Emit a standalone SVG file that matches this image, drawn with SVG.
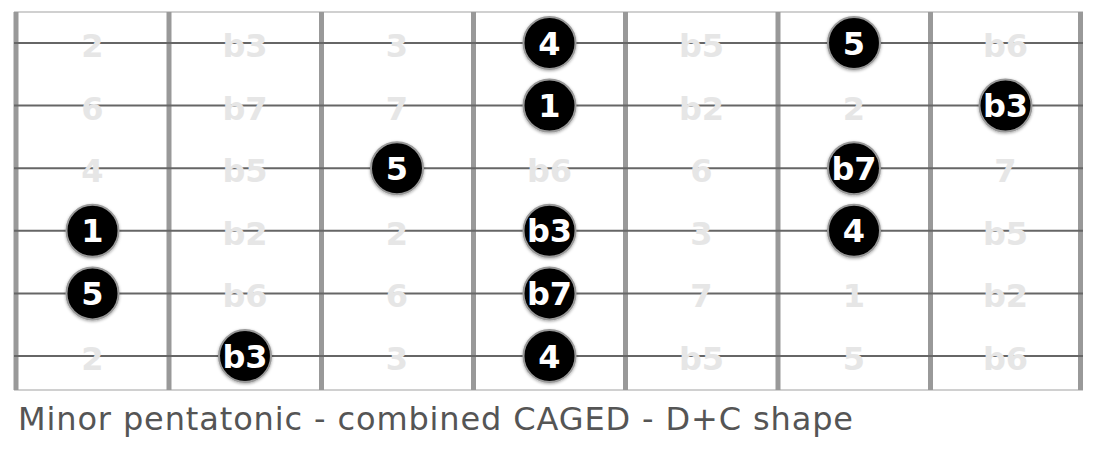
<svg xmlns="http://www.w3.org/2000/svg" width="1100" height="460" viewBox="0 0 1100 460">
<defs>
<style>
.frame{stroke:#d0d0d0;stroke-width:2;fill:none}
.fret{stroke:#999;stroke-width:5}
.str{stroke:#666;stroke-width:2}
.ghost{font-family:"DejaVu Sans",Verdana,sans-serif;font-weight:bold;font-size:32px;fill:#e6e6e6;text-anchor:middle}
.dot circle{fill:#000;stroke:#999;stroke-width:2;filter:url(#sh)}
.dot text{font-family:"DejaVu Sans",Verdana,sans-serif;font-weight:bold;font-size:32px;fill:#fff;text-anchor:middle}
.cap{font-family:"DejaVu Sans",Verdana,sans-serif;font-size:32px;fill:#555}
</style>
<filter id="sh" x="-30%" y="-30%" width="160%" height="160%">
<feDropShadow dx="0" dy="1" stdDeviation="1.5" flood-color="#000" flood-opacity="0.35"/>
</filter>
</defs>
<rect width="1100" height="460" fill="#fff"/>
<g id="board">
<line class="frame" x1="14" y1="12" x2="1083" y2="12"/>
<line class="frame" x1="14" y1="390" x2="1083" y2="390"/>
<g id="frets">
<line class="fret" x1="16" y1="12" x2="16" y2="390"/>
<line class="fret" x1="169" y1="12" x2="169" y2="390"/>
<line class="fret" x1="321.5" y1="12" x2="321.5" y2="390"/>
<line class="fret" x1="473.5" y1="12" x2="473.5" y2="390"/>
<line class="fret" x1="625.5" y1="12" x2="625.5" y2="390"/>
<line class="fret" x1="778" y1="12" x2="778" y2="390"/>
<line class="fret" x1="930.5" y1="12" x2="930.5" y2="390"/>
<line class="fret" x1="1080.5" y1="12" x2="1080.5" y2="390"/>
</g>
<g id="strings">
<line class="str" x1="14" y1="43" x2="1083" y2="43"/>
<line class="str" x1="14" y1="105.6" x2="1083" y2="105.6"/>
<line class="str" x1="14" y1="168.2" x2="1083" y2="168.2"/>
<line class="str" x1="14" y1="230.8" x2="1083" y2="230.8"/>
<line class="str" x1="14" y1="293.4" x2="1083" y2="293.4"/>
<line class="str" x1="14" y1="356" x2="1083" y2="356"/>
</g>
</g>
<g id="ghosts">
<text class="ghost" x="92.5" y="57">2</text>
<text class="ghost" x="245" y="57">b3</text>
<text class="ghost" x="397" y="57">3</text>
<text class="ghost" x="701.5" y="57">b5</text>
<text class="ghost" x="1005.5" y="57">b6</text>

<text class="ghost" x="92.5" y="119.6">6</text>
<text class="ghost" x="245" y="119.6">b7</text>
<text class="ghost" x="397" y="119.6">7</text>
<text class="ghost" x="701.5" y="119.6">b2</text>
<text class="ghost" x="854" y="119.6">2</text>

<text class="ghost" x="92.5" y="182.2">4</text>
<text class="ghost" x="245" y="182.2">b5</text>
<text class="ghost" x="549.5" y="182.2">b6</text>
<text class="ghost" x="701.5" y="182.2">6</text>
<text class="ghost" x="1005.5" y="182.2">7</text>

<text class="ghost" x="245" y="244.8">b2</text>
<text class="ghost" x="397" y="244.8">2</text>
<text class="ghost" x="701.5" y="244.8">3</text>
<text class="ghost" x="1005.5" y="244.8">b5</text>

<text class="ghost" x="245" y="307.4">b6</text>
<text class="ghost" x="397" y="307.4">6</text>
<text class="ghost" x="701.5" y="307.4">7</text>
<text class="ghost" x="854" y="307.4">1</text>
<text class="ghost" x="1005.5" y="307.4">b2</text>

<text class="ghost" x="92.5" y="370">2</text>
<text class="ghost" x="397" y="370">3</text>
<text class="ghost" x="701.5" y="370">b5</text>
<text class="ghost" x="854" y="370">5</text>
<text class="ghost" x="1005.5" y="370">b6</text>
</g>
<g id="n-r1-4" class="dot"><circle cx="549.5" cy="43" r="26"/><text x="549.5" y="54.5">4</text></g>
<g id="n-r1-5" class="dot"><circle cx="854" cy="43" r="26"/><text x="854" y="54.5">5</text></g>
<g id="n-r2-1" class="dot"><circle cx="549.5" cy="105.6" r="26"/><text x="549.5" y="117.1">1</text></g>
<g id="n-r2-b3" class="dot"><circle cx="1005.5" cy="105.6" r="26"/><text x="1005.5" y="117.1">b3</text></g>
<g id="n-r3-5" class="dot"><circle cx="397" cy="168.2" r="26"/><text x="397" y="179.7">5</text></g>
<g id="n-r3-b7" class="dot"><circle cx="854" cy="168.2" r="26"/><text x="854" y="179.7">b7</text></g>
<g id="n-r4-1" class="dot"><circle cx="92.5" cy="230.8" r="26"/><text x="92.5" y="242.3">1</text></g>
<g id="n-r4-b3" class="dot"><circle cx="549.5" cy="230.8" r="26"/><text x="549.5" y="242.3">b3</text></g>
<g id="n-r4-4" class="dot"><circle cx="854" cy="230.8" r="26"/><text x="854" y="242.3">4</text></g>
<g id="n-r5-5" class="dot"><circle cx="92.5" cy="293.4" r="26"/><text x="92.5" y="304.9">5</text></g>
<g id="n-r5-b7" class="dot"><circle cx="549.5" cy="293.4" r="26"/><text x="549.5" y="304.9">b7</text></g>
<g id="n-r6-b3" class="dot"><circle cx="245" cy="356" r="26"/><text x="245" y="367.5">b3</text></g>
<g id="n-r6-4" class="dot"><circle cx="549.5" cy="356" r="26"/><text x="549.5" y="367.5">4</text></g>
<g id="connectors"></g>
<text class="cap" x="18" y="430" textLength="835" lengthAdjust="spacing">Minor pentatonic - combined CAGED - D+C shape</text>
</svg>
